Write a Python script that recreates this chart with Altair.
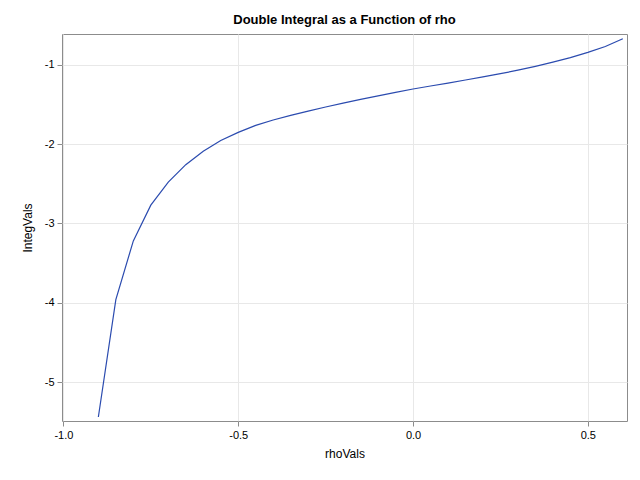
import altair as alt
import pandas as pd

rho_vals = [-0.9, -0.85, -0.8, -0.75, -0.7, -0.65, -0.6, -0.55, -0.5, -0.45,
            -0.4, -0.35, -0.3, -0.25, -0.2, -0.15, -0.1, -0.05, 0.0, 0.05,
            0.1, 0.15, 0.2, 0.25, 0.3, 0.35, 0.4, 0.45, 0.5, 0.55, 0.6]
integ_vals = [-5.44, -3.96, -3.22, -2.77, -2.48, -2.26, -2.09, -1.955, -1.853, -1.765,
              -1.697, -1.638, -1.584, -1.533, -1.485, -1.437, -1.392, -1.349, -1.306, -1.268,
              -1.231, -1.193, -1.154, -1.113, -1.069, -1.021, -0.968, -0.91, -0.845, -0.77, -0.673]

df = pd.DataFrame({"rhoVals": rho_vals, "IntegVals": integ_vals})

FONT = "Liberation Sans"

chart = alt.Chart(df).mark_line(color="#2B4BAF", strokeWidth=1.2).encode(
    x=alt.X("rhoVals:Q",
            scale=alt.Scale(domain=[-1.004, 0.612], nice=False, zero=False),
            axis=alt.Axis(values=[-1.0, -0.5, 0.0, 0.5],
                          labelExpr="replace(format(datum.value, '.1f'), '\u2212', '-')",
                          title="rhoVals")),
    y=alt.Y("IntegVals:Q",
            scale=alt.Scale(domain=[-5.49, -0.613], nice=False, zero=False),
            axis=alt.Axis(values=[-5, -4, -3, -2, -1],
                          labelExpr="replace(format(datum.value, 'd'), '\u2212', '-')",
                          title="IntegVals")),
).properties(
    width=565,
    height=387,
    title=alt.TitleParams("Double Integral as a Function of rho", font=FONT,
                          fontSize=13, fontWeight="bold", color="black",
                          anchor="middle", offset=7),
    autosize=alt.AutoSizeParams(type="none"),
    padding={"left": 54, "top": 26, "right": 5, "bottom": 50},
).configure_view(
    stroke="#8C8C8C", strokeWidth=1
).configure_axis(
    grid=True, gridColor="#E8E8E8", gridWidth=1,
    domain=False, tickColor="#8C8C8C", tickSize=5,
    labelFont=FONT, labelFontSize=11, labelColor="black", labelPadding=3,
    titleFont=FONT, titleFontSize=12, titleFontWeight="normal", titleColor="black",
).configure_axisX(
    titlePadding=8
).configure_axisY(
    titlePadding=10
)

chart.save("out.html", embed_options={"renderer": "svg", "actions": False})
